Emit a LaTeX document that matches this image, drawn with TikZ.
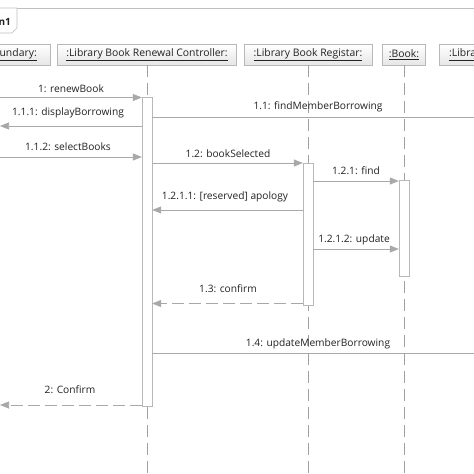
\documentclass[tikz,border=0pt]{standalone}
\usepackage{fontspec}
\setmainfont{Open Sans}
\usetikzlibrary{arrows.meta}
\definecolor{lineg}{HTML}{A8A8A8}
\definecolor{boxg}{HTML}{B8B8B8}
\definecolor{lifeg}{HTML}{A0A0A0}
\definecolor{txt}{HTML}{222222}
\tikzset{
  head/.style={draw=boxg, top color=white, bottom color=black!10, minimum height=21pt, inner sep=0pt, font=\fontsize{10.4}{12}\selectfont, text=txt},
  actbox/.style={draw=boxg, fill=white, minimum width=10pt, inner sep=0pt, anchor=north},
  life/.style={draw=lifeg, line width=0.6pt, dash pattern=on 12pt off 6pt},
  msg/.style={draw=lineg, line width=0.7pt, -{Triangle[length=9pt,width=7pt]}, color=lineg},
  nomsg/.style={draw=lineg, line width=0.7pt},
  ret/.style={msg, dash pattern=on 12pt off 5pt},
  lbl/.style={font=\fontsize{10.2}{12}\selectfont, text=txt, inner sep=0pt}
}
\newcommand{\ul}[1]{\underline{#1}}
\begin{document}
\begin{tikzpicture}[x=1pt,y=-1pt]
\useasboundingbox (0,0) rectangle (474,474);
\clip (0,0) rectangle (474,474);
\fill[white] (0,0) rectangle (474,474);
% frame
\draw[draw=black!25, line width=0.7pt] (-5,8) -- (480,8);
\draw[draw=black!25, line width=0.7pt, fill=white] (-5,8) -- (17,8) -- (17,28) -- (12,33) -- (-5,33);
\node[font=\fontsize{10}{12}\selectfont\bfseries, text=txt, anchor=east, inner sep=0pt] (ftitle) at (11,21.5) {n1};
% heads
\node[head, minimum width=80pt, anchor=north east] (hb) at (50.5,44) {\ul{:Boundary:}};
\node[head, minimum width=179pt, anchor=north] (hc) at (147,44) {\ul{:Library Book Renewal Controller:}};
\node[head, minimum width=128pt, anchor=north] (hr) at (308,44) {\ul{:Library Book Registar:}};
\node[head, minimum width=43pt, anchor=north] (hk) at (404,44) {\ul{:Book:}};
\node[head, minimum width=120pt, anchor=north west, text width=110pt, align=left] (hl) at (439,44) {\hspace*{5pt}\ul{:Library}};
% lifelines
\coordinate (cend) at (147,474);
\coordinate (rend) at (308,474);
\coordinate (kend) at (404,474);
\draw[life] (hc.south) -- (cend);
\draw[life] (hr.south) -- (rend);
\draw[life] (hk.south) -- (kend);
% activations
\node[actbox, minimum height=309pt] (ca) at (147,97) {};
\node[actbox, minimum height=142pt] (ra) at (308,163) {};
\node[actbox, minimum height=96pt] (ka) at (404,180) {};
% off-screen ends
\coordinate (b1) at (0,97.5);
\coordinate (b2) at (0,126);
\coordinate (b3) at (0,157);
\coordinate (b4) at (0,405);
\coordinate (r1) at (480,117);
\coordinate (r2) at (480,353);
% messages
\draw[msg] (b1) -- (ca.west |- b1);
\node[lbl] (l1) at (71,88.5) {1: renewBook};
\draw[nomsg] (ca.east |- r1) -- (r1);
\node[lbl] (l11) at (318,106.5) {1.1: findMemberBorrowing};
\draw[msg] (ca.west |- b2) -- (b2);
\node[lbl] (l111) at (68,112.5) {1.1.1: displayBorrowing};
\draw[msg] (b3) -- (ca.west |- b3);
\node[lbl] (l112) at (68,147) {1.1.2: selectBooks};
\coordinate (m12) at (0,163);
\draw[msg] (ca.east |- m12) -- (ra.west |- m12);
\node[lbl] (l12) at (228,153.5) {1.2: bookSelected};
\coordinate (m121) at (0,181);
\draw[msg] (ra.east |- m121) -- (ka.west |- m121);
\node[lbl] (l121) at (356,171) {1.2.1: find};
\coordinate (m1211) at (0,210);
\draw[msg] (ra.west |- m1211) -- (ca.east |- m1211);
\node[lbl] (l1211) at (225,197) {1.2.1.1: [reserved] apology};
\coordinate (m1212) at (0,249);
\draw[msg] (ra.east |- m1212) -- (ka.west |- m1212);
\node[lbl] (l1212) at (354,240) {1.2.1.2: update};
\coordinate (m13) at (0,303.5);
\draw[ret] (ra.west |- m13) -- (ca.east |- m13);
\node[lbl] (l13) at (228,289) {1.3: confirm};
\draw[nomsg] (ca.east |- r2) -- (r2);
\node[lbl] (l14) at (318,344) {1.4: updateMemberBorrowing};
\draw[ret] (ca.west |- b4) -- (b4);
\node[lbl] (l2) at (70,390) {2: Confirm};
\end{tikzpicture}
\end{document}
